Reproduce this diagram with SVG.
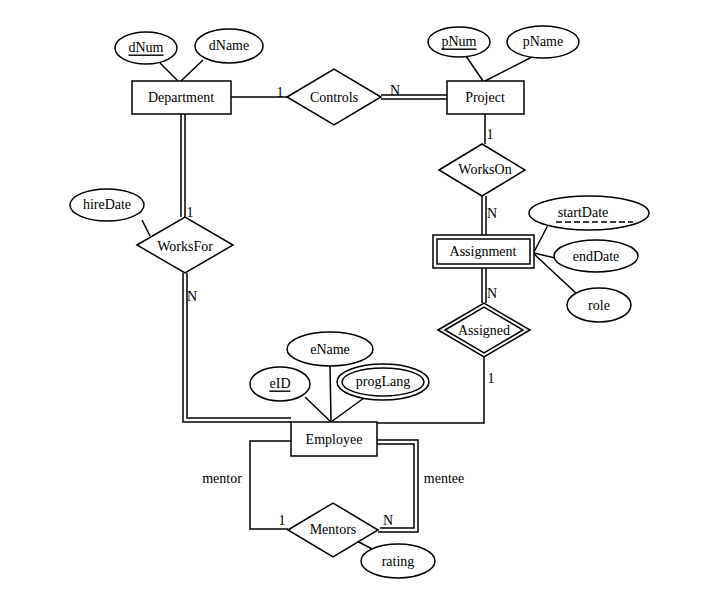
<svg xmlns="http://www.w3.org/2000/svg" width="728" height="609" viewBox="0 0 728 609">
<style>
.s{fill:#fff;stroke:#000;stroke-width:1.5}
.l{fill:none;stroke:#000;stroke-width:1.5}
text{font-family:"Liberation Serif","Times New Roman",serif;font-size:14px;fill:#000}
.c{text-anchor:middle;dominant-baseline:central}
.u{text-decoration:underline}
</style>
<rect width="728" height="609" fill="#fff"/>
<g id="connectors">
<line class="l" x1="231" y1="97" x2="287" y2="97"/>
<line class="l" x1="381" y1="95" x2="447" y2="95"/><line class="l" x1="381" y1="99" x2="447" y2="99"/>
<line class="l" x1="181" y1="114" x2="181" y2="217"/><line class="l" x1="185" y1="114" x2="185" y2="217"/>
<polyline class="l" points="183,273 183,422 291,422"/><polyline class="l" points="187,273 187,418 291,418"/>
<line class="l" x1="485" y1="114" x2="485" y2="144"/>
<line class="l" x1="482" y1="196" x2="482" y2="235"/><line class="l" x1="486" y1="196" x2="486" y2="235"/>
<line class="l" x1="482" y1="268" x2="482" y2="303"/><line class="l" x1="486" y1="268" x2="486" y2="303"/>
<polyline class="l" points="484,357 484,423 377,423"/>
<polyline class="l" points="291,441 250,441 250,529 288,529"/>
<polyline class="l" points="377,440 418,440 418,532 378,532"/><polyline class="l" points="377,444 414,444 414,528 380,528"/>
<line class="l" x1="160" y1="63" x2="178" y2="81"/><line class="l" x1="203" y1="60" x2="181" y2="81"/>
<line class="l" x1="466" y1="56" x2="483" y2="81"/><line class="l" x1="532" y1="57" x2="485" y2="81"/>
<line class="l" x1="142" y1="220" x2="150" y2="236"/>
<line class="l" x1="548" y1="225" x2="534" y2="252"/><line class="l" x1="555" y1="258" x2="534" y2="253"/><line class="l" x1="578" y1="295" x2="534" y2="254"/>
<line class="l" x1="305" y1="397" x2="331" y2="422"/><line class="l" x1="330" y1="366" x2="331" y2="422"/><line class="l" x1="364" y1="398" x2="331" y2="422"/>
<line class="l" x1="374" y1="550" x2="355" y2="540"/>
<text x="280" y="92" class="c">1</text>
<text x="395" y="90" class="c">N</text>
<text x="190" y="212" class="c">1</text>
<text x="192" y="296" class="c">N</text>
<text x="490" y="134" class="c">1</text>
<text x="492" y="213" class="c">N</text>
<text x="492" y="293" class="c">N</text>
<text x="491" y="378" class="c">1</text>
<text x="282" y="520" class="c">1</text>
<text x="388" y="520" class="c">N</text>
<text x="222" y="478" class="c">mentor</text>
<text x="444" y="478" class="c">mentee</text>
</g>
<g id="dNum"><ellipse class="s" cx="146" cy="48" rx="31" ry="16"/><text x="146" y="47" class="c u">dNum</text></g>
<g id="dName"><ellipse class="s" cx="229" cy="46" rx="34" ry="17"/><text x="229" y="45" class="c">dName</text></g>
<g id="Department"><rect class="s" x="132" y="81" width="99" height="33"/><text x="181" y="97" class="c">Department</text></g>
<g id="Controls"><polygon class="s" points="287,97 334,69 381,97 334,125"/><text x="334" y="97" class="c">Controls</text></g>
<g id="pNum"><ellipse class="s" cx="459" cy="42" rx="31" ry="15"/><text x="459" y="41" class="c u">pNum</text></g>
<g id="pName"><ellipse class="s" cx="543" cy="42" rx="36" ry="16"/><text x="543" y="41" class="c">pName</text></g>
<g id="Project"><rect class="s" x="447" y="81" width="77" height="33"/><text x="485" y="97" class="c">Project</text></g>
<g id="WorksOn"><polygon class="s" points="439,170 482,144 525,170 482,196"/><text x="485" y="169" class="c">WorksOn</text></g>
<g id="Assignment"><rect class="s" x="433" y="235" width="101" height="33"/><rect class="s" x="437" y="239" width="93" height="25"/><text x="483" y="251" class="c">Assignment</text></g>
<g id="startDate"><ellipse class="s" cx="589" cy="213" rx="60" ry="17"/><text x="583" y="212" class="c">startDate</text><line x1="556" y1="222" x2="633" y2="222" stroke="#000" stroke-width="1.5" stroke-dasharray="6,3"/></g>
<g id="endDate"><ellipse class="s" cx="596" cy="256" rx="42" ry="16"/><text x="596" y="256" class="c">endDate</text></g>
<g id="role"><ellipse class="s" cx="599" cy="305" rx="32" ry="17"/><text x="599" y="305" class="c">role</text></g>
<g id="Assigned"><polygon class="s" points="438,330 484,303 530,330 484,357"/><polygon class="s" points="445,330 484,307 523,330 484,353"/><text x="484" y="330" class="c">Assigned</text></g>
<g id="hireDate"><ellipse class="s" cx="107" cy="205" rx="37" ry="16"/><text x="107" y="204" class="c">hireDate</text></g>
<g id="WorksFor"><polygon class="s" points="137,245 185,217 233,245 185,273"/><text x="185" y="246" class="c">WorksFor</text></g>
<g id="eName"><ellipse class="s" cx="330" cy="349" rx="43" ry="17"/><text x="330" y="349" class="c">eName</text></g>
<g id="eID"><ellipse class="s" cx="280" cy="384" rx="30" ry="17"/><text x="280" y="383" class="c u">eID</text></g>
<g id="progLang"><ellipse class="s" cx="383" cy="382" rx="46" ry="18"/><ellipse class="s" cx="383" cy="382" rx="41" ry="14"/><text x="383" y="381" class="c">progLang</text></g>
<g id="Employee"><rect class="s" x="291" y="422" width="86" height="34"/><text x="334" y="439" class="c">Employee</text></g>
<g id="Mentors"><polygon class="s" points="288,530 333,503 378,530 333,557"/><text x="333" y="529" class="c">Mentors</text></g>
<g id="rating"><ellipse class="s" cx="398" cy="561" rx="37" ry="17"/><text x="398" y="561" class="c">rating</text></g>
</svg>
